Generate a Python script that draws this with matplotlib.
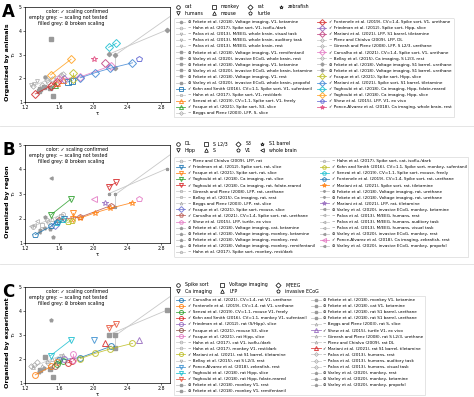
import matplotlib.pyplot as plt
from matplotlib.lines import Line2D

plt.rcParams["font.family"] = ["DejaVu Sans"]

# tau (x) and tau_t (y) for every dataset
fontenele = [1.32, 1.51, 1.57], [1.34, 1.69, 1.86]
carvalho = [1.60, 1.85, 2.21], [1.95, 2.06, 2.53]
senzai = [1.58, 1.64], [1.80, 1.93]
kohn = [1.70, 1.75], [1.84, 1.90]
friedman = [1.66], [1.98]
fosque_s3 = [1.55], [1.72]
fosque_hipp = [1.76, 1.76], [1.96, 2.21]
mariani_spike = [1.85, 2.02, 2.20, 2.46], [2.02, 2.23, 2.42, 2.65]
mariani_lfp = [2.14], [2.65]
yaghoubi_slice = [1.50, 1.74], [2.14, 2.80]
yaghoubi_folate = [2.18, 2.27], [3.30, 3.47]
ponce = [2.01], [2.80]
shew = [2.54], [2.81]
hahn_cat = [1.47], [1.85]
hahn_mk = [1.58], [2.02]
palva_rest = [1.34], [1.88]
palva_aud = [1.27], [1.70]
palva_vis = [1.31], [1.74]
beggs = [1.52], [1.98]
plenz = [1.29, 1.46, 1.64], [1.67, 1.92, 2.17]
gireesh = [1.40], [1.72]
bellay = [1.62], [2.12]
fekete_cat_ket = [1.44], [2.07]
fekete_mk_ket = [1.49], [1.57]
fekete_mk_rest = [1.53], [1.25]
fekete_mk_remi = [1.38], [1.53]
fekete_rat_a = [2.18, 2.86], [3.01, 4.03]
fekete_rat_b = [2.26, 2.26, 2.98], [2.45, 2.98, 4.80]
varley_rest = [1.51], [3.64]
varley_ket = [1.42], [1.62]
varley_prop = [1.36], [1.45]

data = {
    "fontenele": fontenele, "carvalho": carvalho, "senzai": senzai, "kohn": kohn,
    "friedman": friedman, "fosque_s3": fosque_s3, "fosque_hipp": fosque_hipp,
    "mariani_spike": mariani_spike, "mariani_lfp": mariani_lfp,
    "yaghoubi_slice": yaghoubi_slice, "yaghoubi_folate": yaghoubi_folate,
    "ponce": ponce, "shew": shew, "hahn_cat": hahn_cat, "hahn_mk": hahn_mk,
    "palva_rest": palva_rest, "palva_aud": palva_aud, "palva_vis": palva_vis,
    "beggs": beggs, "plenz": plenz, "gireesh": gireesh, "bellay": bellay,
    "fekete_cat_ket": fekete_cat_ket, "fekete_mk_ket": fekete_mk_ket,
    "fekete_mk_rest": fekete_mk_rest, "fekete_mk_remi": fekete_mk_remi,
    "fekete_rat_a": fekete_rat_a, "fekete_rat_b": fekete_rat_b,
    "varley_rest": varley_rest, "varley_ket": varley_ket, "varley_prop": varley_prop,
}

# status: confirmed unless listed here
not_tested = ["hahn_cat", "hahn_mk", "palva_rest", "palva_aud", "palva_vis",
              "beggs", "plenz", "gireesh", "bellay"]
broken = ["fekete_cat_ket", "fekete_mk_ket", "fekete_mk_rest", "fekete_mk_remi",
          "fekete_rat_a", "fekete_rat_b", "varley_rest", "varley_ket", "varley_prop"]

# ---------- panel A: animals ----------
animal_names = ["cat", "humans", "monkey", "mouse", "rat", "turtle", "zebrafish"]
animal_markers = ["o", "v", "s", "^", "D", "p", "*"]
animal_of = {
    "fekete_cat_ket": "cat", "hahn_cat": "cat",
    "palva_vis": "humans", "palva_aud": "humans", "palva_rest": "humans",
    "fekete_mk_remi": "monkey", "varley_rest": "monkey", "fekete_mk_ket": "monkey",
    "varley_ket": "monkey", "fekete_mk_rest": "monkey", "varley_prop": "monkey",
    "kohn": "monkey", "hahn_mk": "monkey", "senzai": "mouse", "fosque_s3": "mouse",
    "shew": "turtle", "ponce": "zebrafish",
}
a_keys = ["fekete_cat_ket", "hahn_cat", "palva_vis", "palva_aud", "palva_rest",
          "fekete_mk_remi", "varley_rest", "fekete_mk_ket", "varley_ket",
          "fekete_mk_rest", "varley_prop", "kohn", "hahn_mk", "senzai", "fosque_s3",
          "beggs", "fontenele", "friedman", "mariani_lfp", "plenz", "gireesh",
          "carvalho", "bellay", "fekete_rat_a", "fekete_rat_b", "fosque_hipp",
          "mariani_spike", "yaghoubi_folate", "yaghoubi_slice", "shew", "ponce"]
a_labels = [
    "⊘ Fekete et al. (2018), Voltage imaging, V1, ketamine",
    "~ Hahn et al. (2017), Spike sort, V1, isoflu./dark",
    "~ Palva et al. (2013), M/EEG, whole brain, visual task",
    "~ Palva et al. (2013), M/EEG, whole brain, auditory task",
    "~ Palva et al. (2013), M/EEG, whole brain, rest",
    "⊘ Fekete et al. (2018), Voltage imaging, V1, remifentanil",
    "⊘ Varley et al. (2020), invasive ECoG, whole brain, rest",
    "⊘ Fekete et al. (2018), Voltage imaging, V1, ketamine",
    "⊘ Varley et al. (2020), invasive ECoG, whole brain, ketamine",
    "⊘ Fekete et al. (2018), Voltage imaging, V1, rest",
    "⊘ Varley et al. (2020), invasive ECoG, whole brain, propofol",
    "✓ Kohn and Smith (2016), CV=1.1, Spike sort, V1, sufentanil",
    "~ Hahn et al. (2017), Spike sort, V1, rest/dark",
    "✓ Senzai et al. (2019), CV=1.1, Spike sort, V1, freely",
    "✓ Fosque et al. (2021), Spike sort, S3, slice",
    "~ Beggs and Plenz (2003), LFP, S, slice",
    "✓ Fontenele et al. (2019), CV=1.4, Spike sort, V1, urethane",
    "✓ Friedman et al. (2012), Spike sort, Hipp, slice",
    "✓ Mariani et al. (2021), LFP, S1 barrel, tiletamine",
    "~ Plenz and Chialvo (2009), LFP, DL",
    "~ Gireesh and Plenz (2008), LFP, S L2/3, urethane",
    "✓ Carvalho et al. (2021), CV=1.4, Spike sort, V1, urethane",
    "~ Bellay et al. (2015), Ca imaging, S L2/3, rest",
    "⊘ Fekete et al. (2018), Voltage imaging, S1 barrel, urethane",
    "⊘ Fekete et al. (2018), Voltage imaging, S1 barrel, urethane",
    "✓ Fosque et al. (2021), Spike sort, Hipp, slice",
    "✓ Mariani et al. (2021), Spike sort, S1 barrel, tiletamine",
    "✓ Yaghoubi et al. (2018), Ca imaging, Hipp, folate-reared",
    "✓ Yaghoubi et al. (2018), Ca imaging, Hipp, slice",
    "✓ Shew et al. (2015), LFP, V1, ex vivo",
    "✓ Ponce-Alvarez et al. (2018), Ca imaging, whole brain, rest",
]
a_colors = {
    "kohn": "#1f77b4", "senzai": "#ff7f0e", "fosque_s3": "#2ca02c",
    "fontenele": "#d62728", "friedman": "#9467bd", "mariani_lfp": "#c0407f",
    "carvalho": "#e377c2", "fosque_hipp": "#bcbd22", "mariani_spike": "#3f86d4",
    "yaghoubi_folate": "#17becf", "yaghoubi_slice": "#ff9f1a", "shew": "#5a5fd0",
    "ponce": "#e0457b",
}

# ---------- panel B: regions ----------
region_names = ["DL", "Hipp", "S L2/3", "S", "S3", "V1", "S1 barrel", "whole brain"]
region_markers = ["o", "v", "s", "^", "D", "p", "*", "<"]
region_of = {
    "plenz": "DL", "friedman": "Hipp", "fosque_hipp": "Hipp", "yaghoubi_slice": "Hipp",
    "yaghoubi_folate": "Hipp", "gireesh": "S L2/3", "bellay": "S L2/3", "beggs": "S",
    "fosque_s3": "S3", "carvalho": "V1", "shew": "V1", "fekete_cat_ket": "V1",
    "fekete_mk_ket": "V1", "fekete_mk_rest": "V1", "fekete_mk_remi": "V1",
    "hahn_mk": "V1", "hahn_cat": "V1", "kohn": "V1", "senzai": "V1", "fontenele": "V1",
    "mariani_spike": "S1 barrel", "fekete_rat_a": "S1 barrel",
    "fekete_rat_b": "S1 barrel", "mariani_lfp": "S1 barrel",
}
b_keys = ["plenz", "friedman", "fosque_hipp", "yaghoubi_slice", "yaghoubi_folate",
          "gireesh", "bellay", "beggs", "fosque_s3", "carvalho", "shew",
          "fekete_cat_ket", "fekete_mk_ket", "fekete_mk_rest", "fekete_mk_remi",
          "hahn_mk", "hahn_cat", "kohn", "senzai", "fontenele", "mariani_spike",
          "fekete_rat_a", "fekete_rat_b", "mariani_lfp", "varley_ket", "palva_rest",
          "palva_aud", "palva_vis", "varley_rest", "ponce", "varley_prop"]
b_labels = [
    "~ Plenz and Chialvo (2009), LFP, rat",
    "✓ Friedman et al. (2012), Spike sort, rat, slice",
    "✓ Fosque et al. (2021), Spike sort, rat, slice",
    "✓ Yaghoubi et al. (2018), Ca imaging, rat, slice",
    "✓ Yaghoubi et al. (2018), Ca imaging, rat, folate-reared",
    "~ Gireesh and Plenz (2008), LFP, rat, urethane",
    "~ Bellay et al. (2015), Ca imaging, rat, rest",
    "~ Beggs and Plenz (2003), LFP, rat, slice",
    "✓ Fosque et al. (2021), Spike sort, mouse, slice",
    "✓ Carvalho et al. (2021), CV=1.4, Spike sort, rat, urethane",
    "✓ Shew et al. (2015), LFP, turtle, ex vivo",
    "⊘ Fekete et al. (2018), Voltage imaging, cat, ketamine",
    "⊘ Fekete et al. (2018), Voltage imaging, monkey, ketamine",
    "⊘ Fekete et al. (2018), Voltage imaging, monkey, rest",
    "⊘ Fekete et al. (2018), Voltage imaging, monkey, remifentanil",
    "~ Hahn et al. (2017), Spike sort, monkey, rest/dark",
    "~ Hahn et al. (2017), Spike sort, cat, isoflu./dark",
    "✓ Kohn and Smith (2016), CV=1.1, Spike sort, monkey, sufentanil",
    "✓ Senzai et al. (2019), CV=1.1, Spike sort, mouse, freely",
    "✓ Fontenele et al. (2019), CV=1.4, Spike sort, rat, urethane",
    "✓ Mariani et al. (2021), Spike sort, rat, tiletamine",
    "⊘ Fekete et al. (2018), Voltage imaging, rat, urethane",
    "⊘ Fekete et al. (2018), Voltage imaging, rat, urethane",
    "✓ Mariani et al. (2021), LFP, rat, tiletamine",
    "⊘ Varley et al. (2020), invasive ECoG, monkey, ketamine",
    "~ Palva et al. (2013), M/EEG, humans, rest",
    "~ Palva et al. (2013), M/EEG, humans, auditory task",
    "~ Palva et al. (2013), M/EEG, humans, visual task",
    "⊘ Varley et al. (2020), invasive ECoG, monkey, rest",
    "✓ Ponce-Alvarez et al. (2018), Ca imaging, zebrafish, rest",
    "⊘ Varley et al. (2020), invasive ECoG, monkey, propofol",
]
b_colors = {
    "friedman": "#1f77b4", "fosque_hipp": "#ff7f0e", "yaghoubi_slice": "#2ca02c",
    "yaghoubi_folate": "#d62728", "fosque_s3": "#6a6fd0", "carvalho": "#b5524a",
    "shew": "#e377c2", "kohn": "#bcbd22", "senzai": "#17becf", "fontenele": "#1f77b4",
    "mariani_spike": "#ff7f0e", "mariani_lfp": "#9467bd", "ponce": "#e377c2",
}

# ---------- panel C: experiments ----------
exp_names = ["Spike sort", "Ca imaging", "Voltage imaging", "LFP", "M/EEG", "invasive ECoG"]
exp_markers = ["o", "v", "s", "^", "D", "p"]
exp_of = {
    "carvalho": "Spike sort", "fontenele": "Spike sort", "senzai": "Spike sort",
    "kohn": "Spike sort", "friedman": "Spike sort", "fosque_s3": "Spike sort",
    "fosque_hipp": "Spike sort", "hahn_cat": "Spike sort", "hahn_mk": "Spike sort",
    "mariani_spike": "Spike sort", "bellay": "Ca imaging", "ponce": "Ca imaging",
    "yaghoubi_slice": "Ca imaging", "yaghoubi_folate": "Ca imaging",
    "fekete_mk_rest": "Voltage imaging", "fekete_mk_remi": "Voltage imaging",
    "fekete_mk_ket": "Voltage imaging", "fekete_cat_ket": "Voltage imaging",
    "fekete_rat_a": "Voltage imaging", "fekete_rat_b": "Voltage imaging",
    "beggs": "LFP", "shew": "LFP", "gireesh": "LFP", "plenz": "LFP", "mariani_lfp": "LFP",
    "palva_rest": "M/EEG", "palva_aud": "M/EEG", "palva_vis": "M/EEG",
    "varley_rest": "invasive ECoG", "varley_ket": "invasive ECoG",
    "varley_prop": "invasive ECoG",
}
c_keys = ["carvalho", "fontenele", "senzai", "kohn", "friedman", "fosque_s3",
          "fosque_hipp", "hahn_cat", "hahn_mk", "mariani_spike", "bellay", "ponce",
          "yaghoubi_slice", "yaghoubi_folate", "fekete_mk_rest", "fekete_mk_remi",
          "fekete_mk_ket", "fekete_cat_ket", "fekete_rat_a", "fekete_rat_b", "beggs",
          "shew", "gireesh", "plenz", "mariani_lfp", "palva_rest", "palva_aud",
          "palva_vis", "varley_rest", "varley_ket", "varley_prop"]
c_labels = [
    "✓ Carvalho et al. (2021), CV=1.4, rat V1, urethane",
    "✓ Fontenele et al. (2019), CV=1.4, rat V1, urethane",
    "✓ Senzai et al. (2019), CV=1.1, mouse V1, freely",
    "✓ Kohn and Smith (2016), CV=1.1, monkey V1, sufentanil",
    "✓ Friedman et al. (2012), rat (S/Hipp), slice",
    "✓ Fosque et al. (2021), mouse S3, slice",
    "✓ Fosque et al. (2021), rat Hipp, slice",
    "~ Hahn et al. (2017), cat V1, isoflu./dark",
    "~ Hahn et al. (2017), monkey V1, rest/dark",
    "✓ Mariani et al. (2021), rat S1 barrel, tiletamine",
    "~ Bellay et al. (2015), rat S L2/3, rest",
    "✓ Ponce-Alvarez et al. (2018), zebrafish, rest",
    "✓ Yaghoubi et al. (2018), rat Hipp, slice",
    "✓ Yaghoubi et al. (2018), rat Hipp, folate-reared",
    "⊘ Fekete et al. (2018), monkey V1, rest",
    "⊘ Fekete et al. (2018), monkey V1, remifentanil",
    "⊘ Fekete et al. (2018), monkey V1, ketamine",
    "⊘ Fekete et al. (2018), cat V1, ketamine",
    "⊘ Fekete et al. (2018), rat S1 barrel, urethane",
    "⊘ Fekete et al. (2018), rat S1 barrel, urethane",
    "~ Beggs and Plenz (2003), rat S, slice",
    "✓ Shew et al. (2015), turtle V1, ex vivo",
    "~ Gireesh and Plenz (2008), rat S L2/3, urethane",
    "~ Plenz and Chialvo (2009), rat DL",
    "✓ Mariani et al. (2021), rat S1 barrel, tiletamine",
    "~ Palva et al. (2013), humans, rest",
    "~ Palva et al. (2013), humans, auditory task",
    "~ Palva et al. (2013), humans, visual task",
    "⊘ Varley et al. (2020), monkey, rest",
    "⊘ Varley et al. (2020), monkey, ketamine",
    "⊘ Varley et al. (2020), monkey, propofol",
]
c_colors = {
    "carvalho": "#1f77b4", "fontenele": "#ff7f0e", "senzai": "#2ca02c", "kohn": "#d62728",
    "friedman": "#9467bd", "fosque_s3": "#8c564b", "fosque_hipp": "#e377c2",
    "mariani_spike": "#bcbd22", "ponce": "#3a8fd0", "yaghoubi_slice": "#17becf",
    "yaghoubi_folate": "#e8543b", "shew": "#9467bd", "mariani_lfp": "#d62728",
}

W, H = 474, 397
fig = plt.figure(figsize=(W / 100, H / 100), dpi=100)

FS = 3.0


def fx(px):
    return px / W


def fy(py):
    return 1 - py / H


def draw_panel(letter, ylab, top, bottom, keys, labels, colors, marker_of,
               cat_names, cat_markers, top_ncol, top_y, leg_y):
    ax = fig.add_axes([fx(25), fy(bottom), fx(145), (bottom - top) / H])
    handles = {}
    for k in keys:
        x, y = data[k]
        m = cat_markers[cat_names.index(marker_of(k))]
        if k in broken:
            h, = ax.plot(x, y, marker=m, color="#c8c8c8", mfc="#9a9a9a", mec="#9a9a9a",
                         ms=2.2, lw=0.6, zorder=1)
        elif k in not_tested:
            h, = ax.plot(x, y, marker=m, color="#d0d0d0", mfc="none", mec="#a8a8a8",
                         ms=2.8, mew=0.5, lw=0.6, zorder=2)
        else:
            c = colors[k]
            h, = ax.plot(x, y, marker=m, color=c, mfc="none", mec=c, ms=4.2, mew=0.7,
                         lw=0.6, alpha=0.85, zorder=3)
        handles[k] = h
    ax.set_xlim(1.2, 2.9)
    ax.set_ylim(1, 5)
    ax.set_xticks([1.2, 1.6, 2.0, 2.4, 2.8])
    ax.set_yticks([1, 2, 3, 4, 5])
    ax.tick_params(labelsize=3.3, length=1.2, width=0.4, pad=1)
    for s in ax.spines.values():
        s.set_linewidth(0.5)
    ax.set_xlabel("τ", fontsize=4, labelpad=1)
    ax.set_ylabel("$\\tau_t$", fontsize=4, labelpad=1)
    ax.text(0.57, 0.95, "color: ✓ scaling confirmed", transform=ax.transAxes,
            fontsize=3.4, ha="right", va="center")
    ax.text(0.57, 0.89, "empty grey: ~ scaling not tested", transform=ax.transAxes,
            fontsize=3.4, ha="right", va="center")
    ax.text(0.55, 0.83, "filled grey: ⊘ broken scaling", transform=ax.transAxes,
            fontsize=3.4, ha="right", va="center")

    fig.text(fx(2), fy(top - 4), letter, fontsize=12, fontweight="bold",
             ha="left", va="top")
    fig.text(fx(8), fy((top + bottom) / 2 + 8), ylab, fontsize=4.6, fontweight="bold",
             rotation=90, ha="center", va="center")

    proxies = [Line2D([], [], marker=m, ls="none", color="k", mfc="none", ms=2.6, mew=0.5)
               for m in cat_markers]
    fig.legend(proxies, cat_names, loc="upper left", bbox_to_anchor=(fx(172), fy(top_y)),
               ncol=top_ncol, frameon=False, fontsize=3.4, handletextpad=1.0,
               columnspacing=1.7, labelspacing=0.3, borderpad=0.2, handlelength=1.0)

    leg = fig.legend([handles[k] for k in keys], labels, loc="upper left",
                     bbox_to_anchor=(fx(172), fy(leg_y)), ncol=2, fontsize=FS,
                     handlelength=2.2, handletextpad=0.6, columnspacing=1.2,
                     labelspacing=0.5, borderpad=0.5, framealpha=1, markerscale=0.7,
                     edgecolor="#d0d0d0", fancybox=True)
    leg.get_frame().set_linewidth(0.4)
    return ax


draw_panel("A", "Organized by animals", 7, 102, a_keys, a_labels, a_colors,
           lambda k: animal_of.get(k, "rat"), animal_names, animal_markers, 4, 1, 16)
draw_panel("B", "Organized by region", 145, 243, b_keys, b_labels, b_colors,
           lambda k: region_of.get(k, "whole brain"), region_names, region_markers, 4,
           138, 155)
draw_panel("C", "Organized by experiment", 287, 383, c_keys, c_labels, c_colors,
           lambda k: exp_of[k], exp_names, exp_markers, 3, 279, 294)

for py in [126, 264]:
    fig.add_artist(Line2D([0, 1], [fy(py), fy(py)], color="#e0e0e0", lw=0.6))

fig.savefig("out.png", dpi=100)
